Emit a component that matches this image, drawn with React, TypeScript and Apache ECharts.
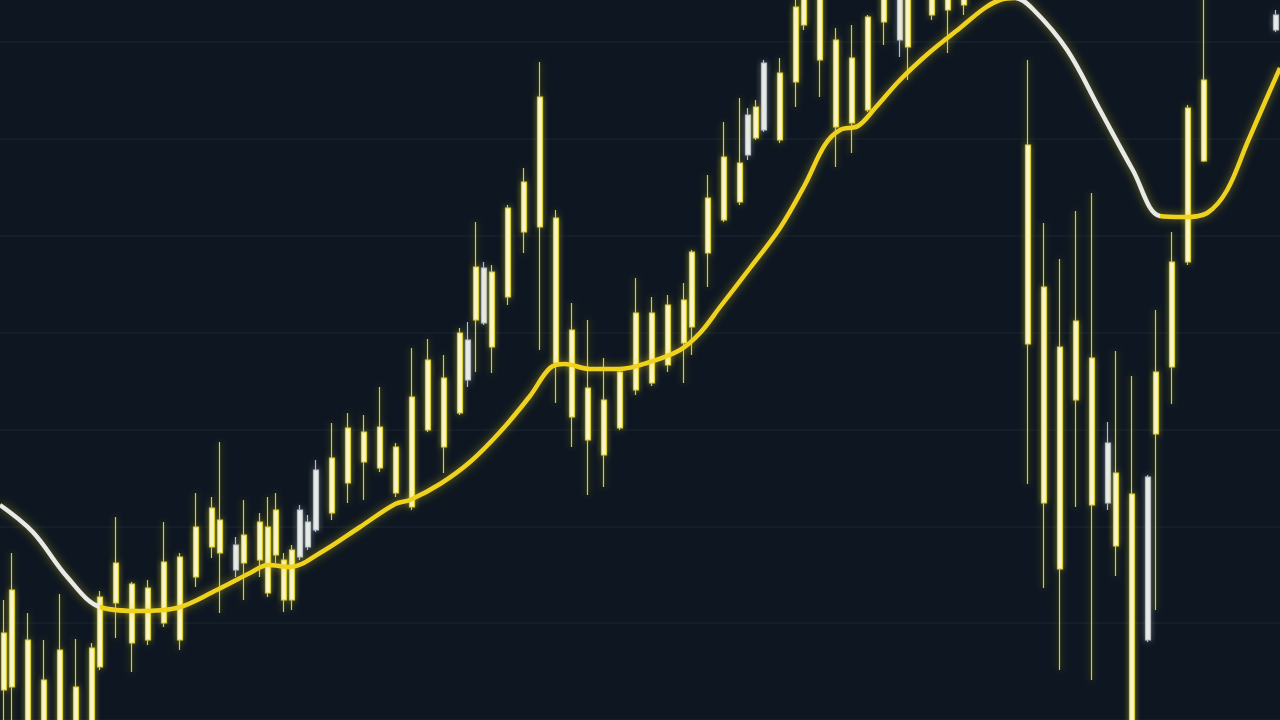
import React, { useEffect, useRef } from "react";
import * as echarts from "echarts";

// Trading day index of each candle
const candleDays = [
  0, 1, 3, 5, 7, 9, 11, 12, 14, 16, 18, 20, 22, 24, 26, 27, 29, 30, 32, 33, 34, 35, 36, 37, 38, 39,
  41, 43, 45, 47, 49, 51, 53, 55, 57, 58, 59, 60, 61, 63, 65, 67, 69, 71, 73, 75, 77, 79, 81, 83,
  85, 86, 88, 90, 92, 93, 94, 95, 97, 99, 100, 102, 104, 106, 108, 110, 112, 113, 116, 118, 120,
  128, 130, 132, 134, 136, 138, 139, 141, 143, 144, 146, 148, 150, 159,
];
const candleOpen = [
  3.0, 3.3, -1.0, -2.0, -2.0, -2.0, -2.0, 5.3, 11.7, 7.7, 8.0, 9.7, 8.0, 14.3, 17.3, 16.7, 15.0, 15.7, 16.0, 12.7, 16.5, 12.0, 12.0, 16.3, 17.3, 19.0,
  20.7, 23.7, 25.8, 25.2, 22.7, 21.3, 29.0, 27.3, 30.7, 34.0, 40.0, 39.7, 37.3, 42.3, 48.8, 49.3, 50.2, 39.0, 33.2, 32.0, 29.2, 33.0, 33.7, 35.5,
  37.7, 39.3, 46.7, 50.0, 51.8, 56.5, 58.2, 59.0, 58.0, 63.8, 69.5, 66.0, 59.3, 59.7, 61.0, 69.8, 68.0, 67.3, 70.5, 71.0, 71.5,
  57.5, 43.3, 37.3, 39.9, 36.2, 27.7, 24.7, 22.6, 24.3, 34.8, 35.3, 45.8, 55.9, 69.0,
];
const candleClose = [
  8.7, 13.0, 8.0, 4.0, 7.0, 3.3, 7.2, 12.3, 15.7, 13.6, 13.2, 15.8, 16.3, 19.3, 21.2, 20.0, 17.5, 18.5, 19.8, 19.3, 21.0, 16.0, 17.0, 21.0, 19.8, 25.0,
  26.2, 29.2, 28.8, 29.3, 27.3, 32.3, 36.0, 34.2, 38.7, 38.0, 45.3, 45.2, 44.8, 51.2, 53.8, 62.3, 35.7, 30.3, 28.0, 26.5, 34.8, 40.7, 40.7, 41.5,
  42.0, 46.8, 52.2, 56.3, 55.7, 60.5, 61.3, 65.7, 64.7, 71.3, 73.0, 72.5, 68.0, 66.2, 70.3, 73.5, 73.0, 73.5, 74.0, 73.0, 74.0,
  37.6, 21.7, 15.1, 32.0, 21.5, 21.7, 17.4, -2.0, 8.0, 28.6, 45.8, 61.2, 64.0, 70.5,
];
const candleLow = [
  -2.0, -2.0, -4.0, -4.0, -4.0, -4.0, -4.0, 5.0, 8.2, 4.8, 7.5, 9.3, 7.0, 13.3, 16.2, 10.7, 14.3, 12.0, 14.3, 12.3, 15.7, 10.8, 11.0, 16.0, 17.0, 18.8,
  20.0, 21.7, 22.0, 24.8, 22.3, 21.0, 28.8, 24.7, 30.5, 33.3, 34.8, 39.5, 34.7, 41.5, 46.7, 37.0, 31.7, 27.3, 22.5, 23.3, 29.0, 32.5, 33.4, 34.8,
  33.7, 36.5, 43.3, 49.8, 51.5, 56.0, 58.0, 58.8, 57.7, 61.3, 69.0, 62.3, 55.3, 56.7, 60.8, 67.5, 66.3, 64.0, 70.0, 66.7, 70.5,
  23.6, 13.2, 5.0, 21.3, 4.0, 21.0, 14.4, -4.0, 7.8, 11.0, 31.6, 45.5, 55.8, 68.8,
];
const candleHigh = [
  12.0, 16.7, 10.7, 8.0, 12.6, 8.1, 7.7, 12.9, 20.3, 13.8, 14.0, 19.8, 16.7, 22.7, 22.3, 27.8, 18.3, 22.0, 20.7, 22.3, 22.7, 16.7, 17.5, 21.5, 20.5, 26.0,
  29.7, 30.7, 30.5, 33.3, 27.7, 37.2, 38.1, 36.5, 39.2, 39.8, 49.8, 45.8, 45.5, 51.5, 55.2, 65.8, 51.0, 41.7, 40.0, 36.2, 35.3, 44.2, 42.3, 42.5,
  43.7, 47.0, 54.5, 59.8, 62.2, 61.2, 62.0, 66.0, 66.2, 74.0, 75.0, 74.0, 69.2, 69.5, 70.5, 75.0, 74.0, 75.0, 75.0, 75.0, 75.0,
  66.0, 49.7, 46.1, 50.9, 52.7, 29.8, 36.9, 34.4, 24.5, 41.0, 48.8, 61.5, 74.0, 71.0,
];
// Days whose candles are drawn pale white-grey instead of yellow
const paleDays = [29, 37, 38, 39, 58, 60, 93, 95, 112, 138, 143, 159];

// Moving average curve
const maDays = [
  -0.5, 3.6, 7.9, 12.0, 17.0, 21.6, 26.6, 30.75, 33.0, 35.75, 39.5, 44.5, 48.9, 50.75, 54.5, 58.25, 62.0, 65.75, 68.25, 70.1,
  73.25, 77.0, 80.75, 84.5, 87.0, 89.5, 93.25, 97.0, 100.1, 102.6, 104.5, 106.75, 108.9, 112.0, 115.75, 119.5, 122.6, 124.5,
  126.4, 128.6, 132.9, 137.0, 141.1, 144.5, 147.6, 150.4, 152.9, 155.4, 157.9, 159.5,
];
const maValues = [
  21.5, 18.8, 14.3, 11.3, 10.9, 11.2, 13.0, 14.7, 15.5, 15.3, 16.7, 19.3, 21.6, 22.0, 23.6, 25.8, 28.8, 32.4, 35.2, 35.6,
  35.1, 35.1, 35.8, 37.0, 38.7, 41.3, 45.2, 49.2, 53.5, 57.5, 59.0, 59.4, 61.2, 64.0, 66.8, 69.2, 71.2, 72.0,
  72.2, 71.1, 67.0, 61.0, 55.0, 50.4, 50.3, 50.7, 53.0, 57.7, 62.3, 65.2,
];

const BG = "#0e1721";
const YELLOW = "#efd21e";
const CREAM = "#f7f5cc";
const WHITE = "#e8eae6";

export default function App() {
  const ref = useRef<HTMLDivElement>(null);

  useEffect(() => {
    if (!ref.current) return;
    const chart = echarts.init(ref.current, undefined, { renderer: "svg" });

    const candles = candleDays.map((d, i) => {
      const value = [d, candleOpen[i], candleClose[i], candleLow[i], candleHigh[i]];
      if (paleDays.includes(d)) {
        return {
          value,
          itemStyle: {
            color: WHITE,
            color0: WHITE,
            borderColor: "#b4bcc2",
            borderColor0: "#b4bcc2",
            shadowColor: "rgba(220,230,230,0.35)",
          },
        };
      }
      return { value };
    });

    const ma = maDays.map((d, i) => [d, maValues[i]]);

    chart.setOption({
      animation: false,
      backgroundColor: BG,
      grid: [
        { left: 0, right: 0, top: 0, bottom: 0 },
        { left: 0, right: 0, top: 42, height: 707 },
      ],
      xAxis: [
        { type: "value", min: -0.5, max: 159.5, show: false },
        { type: "value", gridIndex: 1, min: 0, max: 1, show: false },
      ],
      yAxis: [
        { type: "value", min: 0, max: 72, show: false },
        {
          type: "value",
          gridIndex: 1,
          min: 0,
          max: 7,
          interval: 1,
          axisLabel: { show: false },
          axisLine: { show: false },
          axisTick: { show: false },
          splitLine: { show: true, lineStyle: { color: "rgba(150,175,200,0.045)", width: 2 } },
        },
      ],
      visualMap: {
        show: false,
        type: "piecewise",
        seriesIndex: 1,
        dimension: 0,
        pieces: [
          { lt: 12, color: WHITE },
          { gte: 12, lt: 126.4, color: YELLOW },
          { gte: 126.4, lt: 144.5, color: WHITE },
          { gte: 144.5, color: YELLOW },
        ],
      },
      series: [
        {
          type: "candlestick",
          xAxisIndex: 0,
          yAxisIndex: 0,
          barWidth: 5,
          clip: true,
          itemStyle: {
            color: CREAM,
            color0: CREAM,
            borderColor: "#d9cc24",
            borderColor0: "#d9cc24",
            borderWidth: 1.2,
            shadowBlur: 6,
            shadowColor: "rgba(240,220,40,0.45)",
          },
          data: candles,
        },
        {
          type: "line",
          xAxisIndex: 0,
          yAxisIndex: 0,
          smooth: 0.35,
          symbol: "none",
          lineStyle: {
            width: 4.5,
            shadowBlur: 8,
            shadowColor: "rgba(240,210,30,0.5)",
          },
          data: ma,
          z: 5,
        },
      ],
    });

    return () => chart.dispose();
  }, []);

  return (
    <div
      ref={ref}
      style={{ position: "fixed", left: 0, top: 0, width: 1280, height: 720, background: BG }}
    />
  );
}
